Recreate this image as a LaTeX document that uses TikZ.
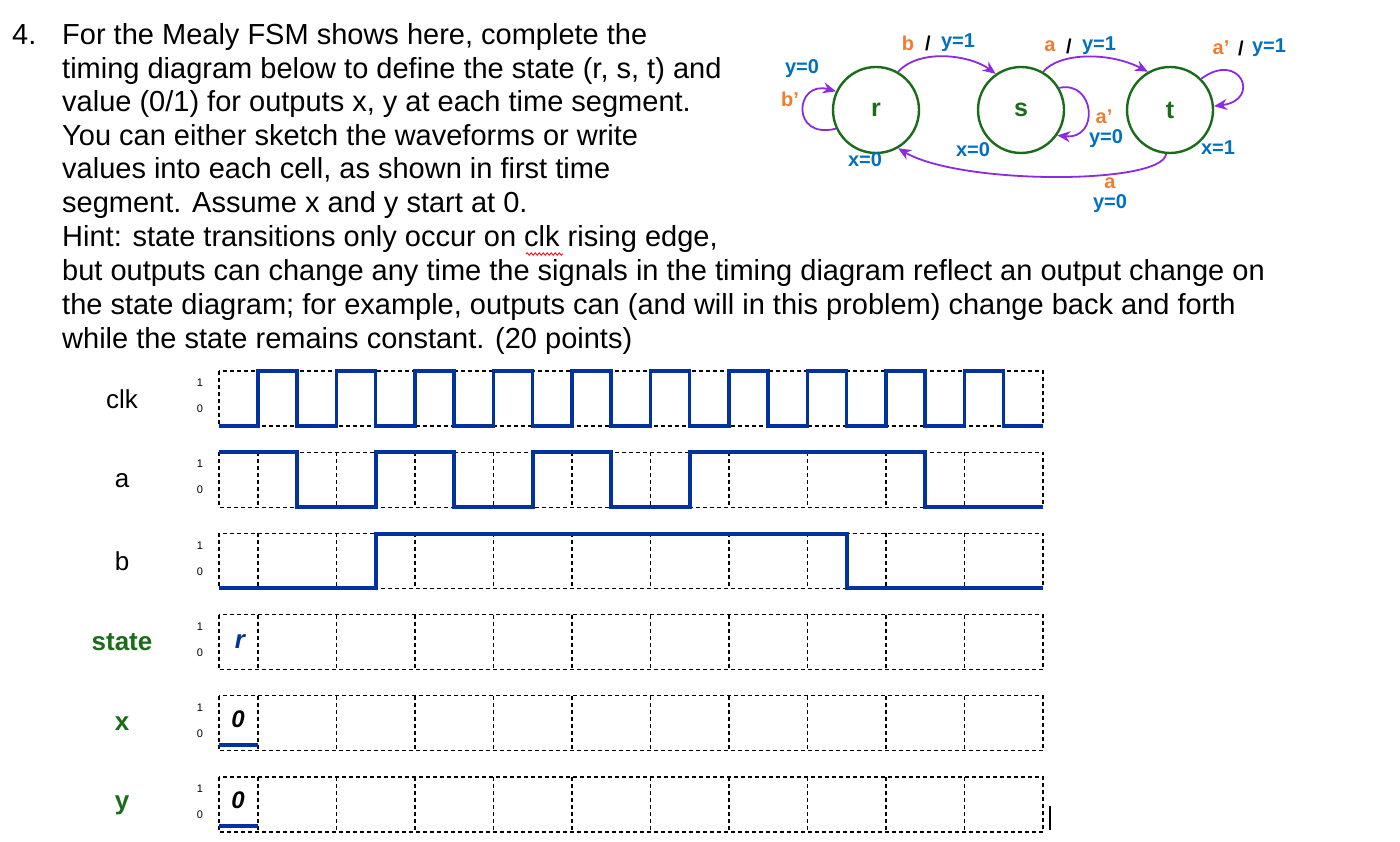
\documentclass[tikz,border=0pt]{standalone}
\usepackage{fontspec}
\setmainfont{Liberation Sans}
\usetikzlibrary{arrows.meta,decorations.pathmorphing}
\definecolor{stgreen}{HTML}{1A6B1A}
\definecolor{lblue}{HTML}{0070C0}
\definecolor{lorange}{HTML}{ED7D31}
\definecolor{lpurple}{HTML}{8A2BE2}
\definecolor{wave}{HTML}{0033A0}
\begin{document}
\begin{tikzpicture}[x=1pt,y=-1pt,
  txt/.style={anchor=base west,inner sep=0,font=\fontsize{29}{34}\selectfont},
  st/.style={circle,draw=stgreen,line width=2.4pt,minimum size=86pt,inner sep=0,font=\fontsize{25}{30}\bfseries\selectfont,text=stgreen},
  tr/.style={draw=lpurple,line width=1.8pt,-{Stealth[length=13pt,width=11pt]}},
  bl/.style={text=lblue,font=\fontsize{20}{24}\bfseries\selectfont,inner sep=0},
  or/.style={text=lorange,font=\fontsize{20}{24}\bfseries\selectfont,inner sep=0},
  sl/.style={inner sep=0,font=\fontsize{20}{24}\bfseries\selectfont},
  grid/.style={draw=black,line width=1.3pt,dash pattern=on 4pt off 3pt},
  wv/.style={draw=wave,line width=3.5pt},
  rowlbl/.style={font=\fontsize{26}{30}\selectfont},
  rowlblg/.style={font=\fontsize{26}{30}\bfseries\selectfont,text=stgreen},
  tiny/.style={font=\fontsize{11}{12}\selectfont,inner sep=0}]
\useasboundingbox (0,0) rectangle (1400,842);
% text
\node[txt] (n4) at (12,45) {4.};
\node[txt] (l1) at (62,45) {For the Mealy FSM shows here, complete the};
\node[txt] (l2) at (62,79) {timing diagram below to define the state (r, s, t) and};
\node[txt] (l3) at (62,112) {value (0/1) for outputs x, y at each time segment.};
\node[txt] (l4) at (62,146) {You can either sketch the waveforms or write};
\node[txt] (l5) at (62,179) {values into each cell, as shown in first time};
\node[txt] (l6) at (62,213) {segment. Assume x and y start at 0.};
\node[txt] (l7) at (62,247) {Hint: state transitions only occur on clk rising edge,};
\node[txt] (l8) at (62,281) {but outputs can change any time the signals in the timing diagram reflect an output change on};
\node[txt] (l9) at (62,314) {the state diagram; for example, outputs can (and will in this problem) change back and forth};
\node[txt] (l10) at (62,348) {while the state remains constant. (20 points)};
\coordinate (w1) at (526,254);
\coordinate (w2) at (563,254);
\draw[red,line width=0.8pt,decorate,decoration={snake,amplitude=1.2pt,segment length=4pt}] (w1) -- (w2);
% FSM
\node[st] (r) at (876,110) {r};
\node[st] (s) at (1021,110) {s};
\node[st] (t) at (1170,110) {t};
\draw[tr] (r.60) .. controls (920,48) and (970,55) .. (s.125);
\draw[tr] (s.60) .. controls (1060,52) and (1110,52) .. (t.120);
\draw[tr] (t.45) .. controls (1240,50) and (1262,100) .. (t.5);
\draw[tr] (s.30) .. controls (1095,80) and (1100,140) .. (s.-35);
\draw[tr] (r.-155) .. controls (790,140) and (795,80) .. (r.155);
\draw[tr] (t.-95) .. controls (1162,185) and (960,185) .. (r.-60);
\node[or] (lb) at (908,43) {b};
\node[sl] (sl1) at (928,43) {/};
\node[bl] (ly1) at (958,43) {y=1};
\node[or] (la) at (1050,46) {a};
\node[sl] (sl2) at (1069,46) {/};
\node[bl] (ly2) at (1099,46) {y=1};
\node[or] (lap) at (1221,48) {a’};
\node[sl] (sl3) at (1241,48) {/};
\node[bl] (ly3) at (1269,48) {y=1};
\node[bl] (ly0r) at (802,69) {y=0};
\node[or] (lbp) at (790,99) {b’};
\node[or] (lap2) at (1104,117) {a’};
\node[bl] (ly0s) at (1106,139) {y=0};
\node[or] (la3) at (1110,183) {a};
\node[bl] (ly0t) at (1110,204) {y=0};
\node[bl] (xr) at (865,160) {x=0};
\node[bl] (xs) at (973,150) {x=0};
\node[bl] (xt) at (1218,148) {x=1};
% timing
\foreach \name/\lab/\sty [count=\i from 0] in {clk/clk/rowlbl,a/a/rowlbl,b/b/rowlbl,state/state/rowlblg,x/x/rowlblg,y/y/rowlblg}{
  \pgfmathsetmacro{\top}{371+81.2*\i}
  \pgfmathsetmacro{\bot}{\top+55}
  \node[\sty] (lab\name) at (122,\top+28) {\lab};
  \node[tiny] (one\name) at (200,\top+12) {1};
  \node[tiny] (zero\name) at (200,\top+38) {0};
  \draw[grid] (219,\top) rectangle (1043,\bot);
  \ifnum\i>0
    \foreach \xx in {258,336.5,415,493.5,572,650.5,729,807.5,886,964.5}{\draw[grid] (\xx,\top) -- (\xx,\bot);}
  \fi
}
\draw[wv] (219,426) foreach \k in {0,...,9}{ -- ({258+78.5*\k},426) -- ({258+78.5*\k},371) -- ({297+78.5*\k},371) -- ({297+78.5*\k},426)} -- (1043,426);
\draw[wv] (219,452) -- (297,452) -- (297,507) -- (376,507) -- (376,452) -- (454,452) -- (454,507) -- (533,507) -- (533,452) -- (611,452) -- (611,507) -- (690,507) -- (690,452) -- (925,452) -- (925,507) -- (1043,507);
\draw[wv] (219,588) -- (376,588) -- (376,534) -- (847,534) -- (847,588) -- (1043,588);
\node[font=\fontsize{26}{30}\bfseries\itshape\selectfont,text=wave] (sr) at (240,642) {r};
\node[font=\fontsize{24}{28}\bfseries\itshape\selectfont] (x0) at (238,719) {0};
\node[font=\fontsize{24}{28}\bfseries\itshape\selectfont] (y0) at (238,800) {0};
\draw[wv] (219,745) -- (258,745);
\draw[wv] (219,826) -- (258,826);
\draw[line width=1.2pt] (1050,806) -- (1050,830);
\end{tikzpicture}
\end{document}
